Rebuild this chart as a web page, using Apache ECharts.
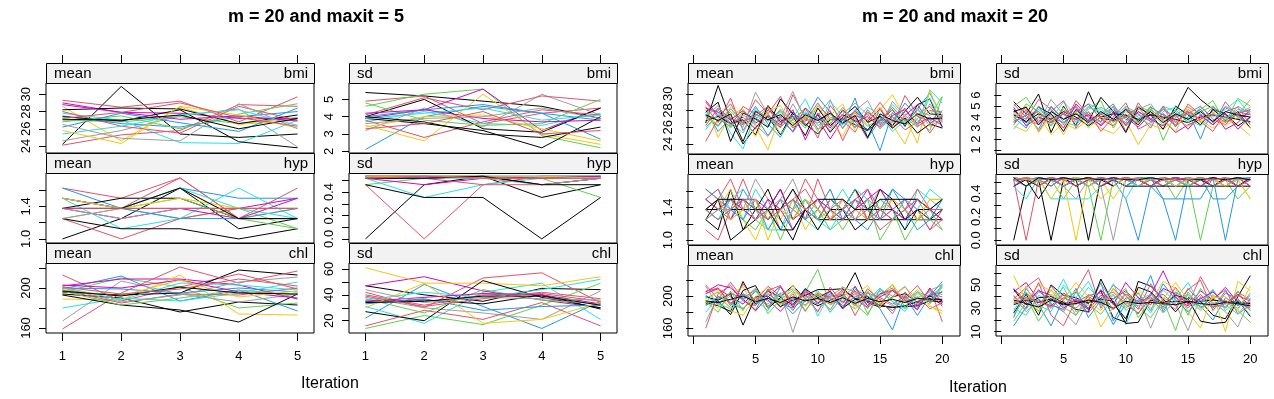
<!DOCTYPE html>
<html>
<head>
<meta charset="utf-8">
<script src="https://cdn.jsdelivr.net/npm/echarts@6/dist/echarts.min.js"></script>
<style>
  html, body { margin: 0; background: #fff; }
  #chart { width: 1274px; height: 399px; }
</style>
</head>
<body>
<div id="chart"></div>
<script>
// iteration numbers
const iter5 = [1, 2, 3, 4, 5];
const iter20 = [1, 2, 3, 4, 5, 6, 7, 8, 9, 10, 11, 12, 13, 14, 15, 16, 17, 18, 19, 20];

// x tick values / labels
const xTicks5 = [1, 2, 3, 4, 5];
const xLabels5 = [1, 2, 3, 4, 5];
const xTicks20 = [0, 5, 10, 15, 20];
const xLabels20 = [5, 10, 15, 20];

// y tick values / labels
const bmiMeanTicks = [24, 26, 28, 30];
const bmiMeanLabels = [24, 26, 28, 30];
const bmiSdTicks5 = [2, 3, 4, 5];
const bmiSdLabels5 = [2, 3, 4, 5];
const bmiSdTicks20 = [1, 2, 3, 4, 5, 6];
const bmiSdLabels20 = [1, 2, 3, 4, 5, 6];
const hypMeanTicks = [1.0, 1.2, 1.4, 1.6];
const hypMeanLabels = [1.0, 1.4];
const hypSdTicks = [0, 0.1, 0.2, 0.3, 0.4, 0.5];
const hypSdLabels = [0, 0.2, 0.4];
const chlMeanTicks = [160, 180, 200, 220];
const chlMeanLabels = [160, 200];
const chlSdTicks5 = [20, 30, 40, 50, 60];
const chlSdLabels5 = [20, 40, 60];
const chlSdTicks20 = [10, 20, 30, 40, 50, 60];
const chlSdLabels20 = [10, 30, 50];

// ---- m = 20, maxit = 5 (one row per imputation) ----
const bmiMean5 = [
  [24.2, 30.9, 25.4, 25.0, 25.4], [29.3, 28.5, 29.2, 26.8, 29.7], [27.0, 26.8, 27.4, 26.6, 27.3], [27.5, 26.6, 26.2, 27.4, 28.0],
  [27.8, 27.0, 24.4, 24.3, 27.0], [29.0, 27.9, 27.8, 27.2, 27.2], [28.6, 24.6, 28.5, 26.5, 27.0], [24.6, 25.8, 27.5, 28.3, 23.9],
  [28.2, 28.4, 28.3, 26.6, 27.6], [28.0, 26.3, 25.5, 28.6, 27.0], [27.4, 26.9, 28.2, 24.5, 23.8], [24.1, 25.3, 25.8, 28.8, 28.6],
  [26.8, 27.5, 26.0, 27.7, 28.9], [26.2, 27.8, 26.7, 25.7, 28.4], [25.4, 26.3, 27.6, 28.2, 26.4], [28.8, 27.9, 27.1, 27.5, 26.9],
  [25.8, 24.3, 28.6, 27.6, 26.1], [26.5, 24.9, 24.6, 28.9, 26.0], [27.1, 27.0, 27.6, 26.0, 27.2], [27.2, 27.9, 29.0, 27.3, 26.3]
];
const bmiSd5 = [
  [5.4, 5.2, 4.9, 4.6, 3.9], [4.9, 5.2, 3.6, 4.2, 4.5], [4.6, 5.3, 5.6, 2.9, 2.2], [2.1, 4.0, 4.6, 4.2, 3.8],
  [3.7, 4.3, 3.6, 3.5, 4.2], [3.9, 4.4, 5.6, 3.2, 4.5], [3.5, 2.6, 5.3, 3.0, 2.4], [3.2, 4.5, 3.4, 5.3, 4.1],
  [4.0, 5.0, 3.3, 3.1, 4.5], [3.8, 2.8, 3.7, 4.4, 4.1], [3.9, 3.6, 3.2, 2.2, 4.0], [4.1, 5.1, 4.4, 5.2, 4.9],
  [4.8, 3.8, 3.5, 3.6, 5.0], [4.0, 4.4, 4.7, 4.2, 2.7], [3.9, 4.2, 4.5, 3.8, 4.1], [4.2, 4.4, 3.9, 3.7, 3.8],
  [3.4, 4.0, 4.1, 3.3, 2.6], [3.6, 3.9, 4.0, 4.5, 3.9], [4.0, 3.7, 3.0, 2.8, 3.4], [3.3, 3.6, 4.3, 3.0, 3.2]
];
const hypMean5 = [
  [1.0, 1.25, 1.625, 1.125, 1.25], [1.625, 1.5, 1.75, 1.25, 1.625], [1.25, 1.375, 1.25, 1.375, 1.125], [1.625, 1.375, 1.625, 1.5, 1.5],
  [1.5, 1.125, 1.25, 1.625, 1.25], [1.375, 1.25, 1.375, 1.375, 1.5], [1.5, 1.375, 1.625, 1.25, 1.375], [1.375, 1.25, 1.375, 1.375, 1.375],
  [1.375, 1.5, 1.5, 1.25, 1.25], [1.25, 1.0, 1.25, 1.375, 1.375], [1.25, 1.125, 1.125, 1.0, 1.125], [1.375, 1.375, 1.75, 1.25, 1.25],
  [1.375, 1.375, 1.5, 1.25, 1.125], [1.5, 1.375, 1.25, 1.25, 1.375], [1.5, 1.375, 1.625, 1.375, 1.25], [1.5, 1.375, 1.375, 1.25, 1.5],
  [1.5, 1.375, 1.5, 1.375, 1.375], [1.25, 1.375, 1.375, 1.375, 1.375], [1.375, 1.375, 1.625, 1.25, 1.25], [1.375, 1.375, 1.375, 1.375, 1.375]
];
const hypSd5 = [
  [0, 0.463, 0.535, 0.354, 0.463], [0.463, 0, 0.463, 0.535, 0.535], [0.463, 0.518, 0.535, 0.518, 0.354], [0.535, 0.535, 0.535, 0.535, 0.535],
  [0.518, 0.354, 0.463, 0.518, 0.518], [0.518, 0.463, 0.518, 0.518, 0.518], [0.535, 0.535, 0.518, 0.518, 0.535], [0.518, 0.518, 0.535, 0.518, 0.518],
  [0.535, 0.535, 0.535, 0.463, 0.518], [0.518, 0.518, 0.463, 0.463, 0.518], [0.463, 0.354, 0.354, 0, 0.354], [0.535, 0.535, 0.518, 0.535, 0.535],
  [0.518, 0.535, 0.518, 0.518, 0.518], [0.518, 0.518, 0.535, 0.535, 0.535], [0.535, 0.518, 0.518, 0.535, 0.518], [0.535, 0.518, 0.535, 0.518, 0.535],
  [0.535, 0.535, 0.535, 0.535, 0.518], [0.518, 0.535, 0.518, 0.463, 0.518], [0.518, 0.518, 0.535, 0.463, 0.463], [0.518, 0.535, 0.518, 0.518, 0.518]
];
const chlMean5 = [
  [194, 190, 176, 186, 183], [213, 187, 201, 214, 199], [196, 210, 201, 180, 185], [199, 212, 187, 198, 177],
  [180, 190, 187, 195, 206], [202, 209, 209, 203, 189], [189, 188, 213, 174, 173], [167, 207, 194, 186, 194],
  [196, 193, 195, 218, 213], [159, 195, 221, 205, 217], [193, 183, 178, 166, 194], [198, 185, 194, 193, 200],
  [197, 183, 190, 198, 193], [200, 199, 195, 200, 196], [201, 188, 205, 203, 198], [203, 200, 208, 196, 190],
  [198, 192, 208, 191, 197], [200, 186, 193, 206, 211], [197, 192, 201, 195, 194], [201, 194, 199, 209, 202]
];
const chlSd5 = [
  [47, 40, 35, 45, 44], [42, 30, 53, 57, 34], [14, 24, 17, 32, 49], [22, 48, 31, 14, 35],
  [31, 18, 42, 49, 21], [47, 54, 43, 36, 30], [61, 49, 49, 47, 54], [38, 30, 26, 21, 43],
  [27, 20, 51, 38, 30], [16, 28, 21, 34, 16], [35, 36, 33, 40, 29], [40, 32, 40, 41, 35],
  [37, 26, 44, 36, 33], [33, 37, 28, 31, 32], [36, 42, 38, 44, 52], [35, 38, 41, 40, 33],
  [30, 49, 18, 21, 34], [44, 34, 38, 37, 36], [34, 35, 39, 39, 32], [39, 31, 37, 42, 37]
];

// ---- m = 20, maxit = 20 ----
const bmiMean20 = [
  [26.5, 31.0, 26.9, 24.0, 26.0, 27.3, 25.1, 27.8, 26.4, 25.2, 26.9, 27.0, 26.3, 25.6, 26.8, 28.1, 26.1, 28.7, 29.4, 26.0],
  [29.0, 27.2, 28.8, 26.4, 29.3, 27.6, 29.7, 26.8, 28.3, 25.8, 26.4, 27.9, 27.1, 24.6, 28.3, 26.1, 29.8, 27.5, 28.5, 26.7],
  [27.2, 26.1, 27.9, 26.4, 27.0, 28.3, 26.0, 27.4, 25.9, 28.6, 27.2, 26.8, 27.7, 26.1, 27.0, 28.1, 26.3, 26.9, 25.6, 29.6],
  [28.1, 25.5, 27.1, 26.3, 28.5, 26.4, 24.8, 27.6, 26.9, 29.6, 27.8, 25.9, 28.1, 26.7, 23.2, 27.8, 26.2, 28.2, 30.1, 27.2],
  [27.5, 28.2, 25.3, 23.4, 27.6, 26.1, 28.2, 26.5, 27.9, 25.5, 29.1, 27.3, 25.9, 27.8, 26.5, 28.7, 27.2, 26.0, 30.5, 28.9],
  [29.2, 27.4, 26.5, 27.2, 25.8, 28.1, 27.0, 25.5, 28.3, 27.0, 24.6, 26.9, 27.9, 26.7, 28.2, 25.9, 27.4, 28.7, 26.5, 27.3],
  [28.6, 24.8, 27.5, 28.2, 26.1, 23.3, 27.6, 26.4, 27.0, 28.4, 26.6, 24.9, 27.8, 26.3, 28.1, 29.9, 27.2, 24.1, 30.4, 26.8],
  [26.7, 28.0, 27.2, 26.0, 30.2, 27.5, 25.9, 28.8, 26.3, 27.4, 29.3, 25.8, 28.0, 29.2, 26.4, 27.7, 26.9, 28.3, 26.1, 27.0],
  [27.8, 29.0, 24.3, 27.7, 27.0, 26.0, 29.4, 27.6, 26.2, 27.5, 25.4, 27.2, 28.5, 26.6, 27.3, 26.2, 27.9, 29.6, 27.6, 27.5],
  [24.3, 27.0, 26.1, 28.5, 27.6, 26.8, 28.0, 25.9, 27.4, 24.7, 28.6, 26.8, 25.4, 28.1, 26.3, 27.3, 25.7, 26.6, 28.0, 27.8],
  [26.8, 27.3, 26.4, 26.9, 25.1, 28.6, 26.7, 27.3, 25.0, 28.3, 26.2, 27.5, 26.8, 25.7, 27.3, 25.9, 27.1, 25.3, 26.4, 25.9],
  [28.4, 26.6, 29.5, 25.6, 28.0, 27.2, 26.0, 29.9, 27.1, 26.5, 28.0, 24.4, 27.4, 26.9, 29.0, 26.9, 28.3, 26.1, 27.0, 27.3],
  [26.0, 27.5, 25.9, 27.9, 26.7, 27.7, 25.2, 27.0, 28.1, 27.1, 26.4, 28.4, 26.3, 27.6, 25.8, 27.2, 26.5, 28.0, 27.4, 29.7],
  [27.4, 26.2, 28.2, 26.7, 27.3, 25.0, 27.3, 25.4, 27.7, 26.9, 27.6, 26.3, 29.5, 24.7, 26.9, 26.6, 28.9, 27.3, 26.7, 28.0],
  [25.7, 27.6, 26.6, 25.3, 28.3, 26.7, 27.8, 27.1, 29.4, 26.2, 27.0, 26.4, 26.7, 28.4, 27.5, 25.5, 26.8, 27.0, 29.5, 26.5],
  [28.3, 27.8, 26.9, 28.0, 26.5, 27.4, 26.3, 28.1, 24.5, 27.7, 25.9, 28.1, 26.6, 27.3, 26.0, 27.4, 28.1, 26.4, 27.2, 26.2],
  [27.0, 26.5, 28.4, 27.3, 24.9, 27.9, 28.6, 26.0, 27.3, 25.7, 27.4, 28.8, 25.6, 27.1, 28.4, 26.3, 24.0, 27.7, 26.2, 27.6],
  [27.3, 28.6, 26.2, 27.5, 26.3, 24.9, 27.1, 30.3, 26.8, 27.1, 25.6, 27.6, 28.9, 27.5, 26.1, 29.1, 27.4, 26.3, 28.8, 26.9],
  [27.5, 26.8, 27.6, 24.3, 27.9, 26.9, 27.5, 26.2, 27.5, 26.8, 27.7, 26.5, 27.4, 24.8, 27.6, 26.8, 26.4, 27.6, 27.0, 27.1],
  [26.2, 28.3, 27.0, 26.6, 27.4, 28.5, 26.5, 27.3, 26.7, 28.9, 26.9, 27.4, 26.0, 27.8, 26.7, 28.4, 26.7, 27.5, 25.3, 27.4]
];
const bmiSd20 = [
  [5.4, 4.3, 6.1, 2.6, 5.0, 3.2, 6.3, 3.9, 3.7, 4.2, 3.3, 4.7, 3.8, 4.5, 6.7, 5.6, 4.7, 3.7, 4.5, 3.0],
  [4.5, 3.8, 5.6, 4.7, 3.3, 5.5, 4.2, 3.6, 5.0, 2.7, 5.3, 3.8, 4.9, 3.1, 5.2, 4.2, 3.3, 5.4, 4.0, 4.3],
  [5.0, 5.8, 4.2, 3.2, 4.5, 3.8, 4.7, 5.5, 3.0, 4.9, 3.7, 5.0, 1.9, 4.3, 3.8, 4.7, 5.5, 3.5, 5.7, 5.0],
  [3.5, 4.2, 2.9, 5.0, 3.8, 4.9, 3.3, 4.3, 5.2, 3.2, 4.5, 3.8, 4.7, 4.0, 4.5, 2.0, 4.9, 4.2, 3.8, 4.5],
  [4.3, 3.3, 4.7, 3.8, 5.4, 4.2, 5.2, 4.7, 3.8, 5.0, 4.3, 3.6, 5.0, 4.5, 3.6, 4.9, 4.0, 4.7, 5.6, 4.2],
  [3.8, 4.9, 3.6, 4.3, 3.0, 5.2, 4.0, 3.3, 4.5, 4.0, 3.1, 4.3, 3.8, 2.6, 3.3, 3.8, 4.5, 2.9, 3.5, 4.7],
  [3.2, 2.7, 4.2, 2.4, 3.5, 2.9, 3.8, 3.0, 2.5, 3.7, 1.5, 3.3, 2.9, 3.8, 3.2, 3.7, 3.0, 3.8, 3.3, 2.3],
  [4.0, 4.5, 3.5, 5.6, 4.2, 3.8, 5.0, 4.2, 4.9, 3.3, 4.7, 5.2, 3.6, 4.2, 4.9, 4.3, 3.6, 5.0, 4.3, 4.9],
  [4.7, 3.5, 4.9, 4.3, 2.7, 4.7, 3.6, 5.8, 4.5, 2.6, 4.9, 4.2, 2.9, 5.0, 4.2, 3.3, 4.7, 4.3, 3.2, 4.0],
  [3.3, 4.7, 2.7, 4.5, 5.5, 3.0, 4.5, 2.7, 4.0, 5.3, 2.9, 3.5, 4.3, 3.3, 4.7, 3.6, 2.7, 4.5, 4.9, 3.3],
  [4.2, 3.6, 4.3, 3.8, 4.5, 4.0, 3.2, 4.0, 4.3, 4.2, 3.8, 4.2, 4.0, 3.8, 3.5, 4.0, 4.2, 4.0, 3.8, 3.6],
  [5.2, 4.0, 3.3, 4.9, 3.8, 4.5, 5.2, 3.8, 3.2, 4.7, 4.3, 3.0, 5.0, 3.6, 4.3, 5.0, 3.8, 3.3, 4.5, 4.2],
  [3.6, 5.2, 4.5, 3.3, 4.9, 3.5, 4.2, 4.9, 4.2, 3.5, 5.0, 4.5, 3.3, 4.7, 3.5, 4.5, 5.0, 4.0, 4.2, 5.6],
  [4.0, 3.0, 5.0, 4.0, 3.5, 4.3, 3.8, 3.6, 4.7, 3.8, 3.5, 4.9, 4.2, 3.2, 4.0, 4.7, 3.5, 4.9, 4.0, 3.5],
  [2.9, 4.3, 3.8, 4.7, 3.6, 3.2, 4.9, 4.5, 3.5, 4.5, 4.0, 3.3, 4.5, 4.9, 3.8, 3.2, 4.3, 3.8, 4.7, 4.5],
  [4.9, 3.2, 4.0, 3.5, 4.3, 3.8, 4.2, 3.2, 4.3, 3.3, 4.5, 3.8, 3.2, 4.2, 2.9, 4.2, 3.3, 4.3, 2.9, 4.0],
  [3.8, 5.0, 2.6, 4.2, 2.4, 4.5, 3.0, 4.0, 3.3, 4.3, 3.5, 4.7, 3.8, 2.7, 5.0, 3.5, 4.5, 3.2, 4.0, 3.0],
  [4.3, 3.8, 4.9, 3.6, 4.7, 3.6, 4.5, 3.5, 5.0, 4.0, 4.2, 3.6, 4.7, 4.0, 4.3, 3.8, 4.9, 3.6, 5.0, 4.3],
  [4.5, 4.9, 3.3, 4.5, 3.8, 4.3, 3.5, 4.5, 3.8, 4.7, 3.6, 4.5, 3.5, 4.3, 3.8, 4.5, 3.6, 4.5, 4.2, 4.0],
  [3.6, 4.2, 4.5, 3.6, 4.3, 5.0, 3.6, 4.3, 3.6, 4.0, 4.9, 3.6, 4.3, 3.5, 4.5, 3.8, 4.3, 3.5, 4.3, 4.7]
];
const hypMean20 = [
  [1.25, 1.125, 1.625, 1.125, 1.25, 1.375, 1.625, 1.25, 1.5, 1.25, 1.25, 1.25, 1.25, 1.25, 1.25, 1.25, 1.25, 1.25, 1.25, 1.25],
  [1.625, 1.5, 1.75, 1.375, 1.25, 1.5, 1.125, 1.375, 1.75, 1.5, 1.25, 1.375, 1.625, 1.25, 1.375, 1.5, 1.25, 1.375, 1.125, 1.375],
  [1.375, 1.25, 1.375, 1.5, 1.25, 1.125, 1.375, 1.25, 1.5, 1.375, 1.125, 1.25, 1.375, 1.5, 1.0, 1.25, 1.375, 1.25, 1.25, 1.5],
  [1.5, 1.375, 1.25, 1.625, 1.375, 1.25, 1.5, 1.125, 1.375, 1.25, 1.5, 1.375, 1.25, 1.125, 1.375, 1.625, 1.5, 1.5, 1.375, 1.25],
  [1.5, 1.625, 1.375, 1.25, 1.625, 1.375, 1.125, 1.5, 1.25, 1.125, 1.375, 1.625, 1.375, 1.25, 1.5, 1.375, 1.125, 1.625, 1.5, 1.375],
  [1.375, 1.5, 1.25, 1.5, 1.5, 1.375, 1.625, 1.25, 1.375, 1.5, 1.25, 1.5, 1.375, 1.625, 1.25, 1.375, 1.5, 1.25, 1.375, 1.5],
  [1.5, 1.375, 1.625, 1.25, 1.0, 1.375, 1.25, 1.5, 1.125, 1.375, 1.625, 1.25, 1.5, 1.375, 1.25, 1.5, 1.375, 1.25, 1.5, 1.5],
  [1.375, 1.25, 1.5, 1.375, 1.75, 1.5, 1.375, 1.625, 1.25, 1.5, 1.375, 1.25, 1.5, 1.375, 1.625, 1.375, 1.25, 1.5, 1.375, 1.25],
  [1.375, 1.375, 1.375, 1.375, 1.375, 1.375, 1.375, 1.625, 1.375, 1.125, 1.375, 1.375, 1.625, 1.375, 1.375, 1.375, 1.125, 1.375, 1.375, 1.375],
  [1.125, 1.0, 1.375, 1.75, 1.375, 1.25, 1.5, 1.375, 1.25, 1.75, 1.375, 1.5, 1.25, 1.375, 1.125, 1.25, 1.5, 1.375, 1.125, 1.25],
  [1.25, 1.5, 1.0, 1.125, 1.375, 1.625, 1.25, 1.0, 1.375, 1.25, 1.5, 1.375, 1.125, 1.25, 1.625, 1.5, 1.25, 1.375, 1.25, 1.375],
  [1.5, 1.625, 1.25, 1.375, 1.5, 1.25, 1.375, 1.5, 1.625, 1.375, 1.25, 1.375, 1.5, 1.625, 1.375, 1.25, 1.375, 1.625, 1.375, 1.25],
  [1.25, 1.375, 1.5, 1.25, 1.125, 1.375, 1.0, 1.375, 1.5, 1.25, 1.375, 1.125, 1.375, 1.25, 1.5, 1.375, 1.0, 1.25, 1.375, 1.125],
  [1.625, 1.5, 1.375, 1.25, 1.5, 1.125, 1.375, 1.5, 1.25, 1.375, 1.625, 1.25, 1.5, 1.375, 1.25, 1.625, 1.375, 1.125, 1.25, 1.5],
  [1.375, 1.25, 1.5, 1.625, 1.375, 1.125, 1.125, 1.375, 1.5, 1.25, 1.125, 1.375, 1.625, 1.5, 1.375, 1.25, 1.5, 1.375, 1.625, 1.5],
  [1.5, 1.375, 1.5, 1.375, 1.25, 1.5, 1.375, 1.125, 1.375, 1.5, 1.375, 1.25, 1.375, 1.5, 1.625, 1.375, 1.25, 1.5, 1.375, 1.25],
  [1.375, 1.5, 1.25, 1.375, 1.5, 1.0, 1.375, 1.25, 1.5, 1.375, 1.25, 1.5, 1.375, 1.25, 1.375, 1.5, 1.375, 1.25, 1.5, 1.5],
  [1.25, 1.375, 1.375, 1.5, 1.25, 1.375, 1.5, 1.75, 1.375, 1.25, 1.5, 1.375, 1.25, 1.5, 1.375, 1.25, 1.375, 1.5, 1.25, 1.125],
  [1.375, 1.5, 1.5, 1.5, 1.375, 1.375, 1.125, 1.125, 1.375, 1.5, 1.5, 1.5, 1.375, 1.375, 1.5, 1.5, 1.5, 1.5, 1.375, 1.5],
  [1.375, 1.25, 1.375, 1.5, 1.375, 1.25, 1.375, 1.5, 1.375, 1.5, 1.25, 1.375, 1.5, 1.25, 1.375, 1.25, 1.375, 1.5, 1.375, 1.375]
];
const hypSd20 = [
  [0, 0.463, 0.518, 0, 0.518, 0.535, 0, 0.535, 0.518, 0.463, 0.535, 0.518, 0.463, 0.535, 0.518, 0.535, 0.463, 0.518, 0.535, 0.463],
  [0.518, 0, 0.518, 0.535, 0.463, 0.518, 0.535, 0.518, 0.535, 0.518, 0.463, 0.535, 0.518, 0.535, 0.518, 0.463, 0.518, 0.535, 0.518, 0.518],
  [0.535, 0.518, 0.463, 0.518, 0.354, 0.518, 0.463, 0, 0.518, 0.535, 0.463, 0.518, 0.535, 0.354, 0.518, 0, 0.463, 0.518, 0.354, 0.463],
  [0.518, 0.535, 0.518, 0.463, 0.535, 0.518, 0.535, 0.463, 0.518, 0.354, 0, 0.463, 0.354, 0, 0.518, 0.535, 0.354, 0.354, 0.463, 0.518],
  [0.463, 0.354, 0.535, 0.354, 0.354, 0.354, 0.354, 0.463, 0.518, 0.354, 0.535, 0.518, 0.463, 0.535, 0.518, 0.535, 0.518, 0.463, 0.535, 0.535],
  [0.535, 0.518, 0.535, 0.518, 0.535, 0.463, 0.518, 0.535, 0.463, 0.535, 0.518, 0.535, 0.518, 0.463, 0.535, 0.518, 0.535, 0.518, 0.463, 0.518],
  [0.518, 0.535, 0.463, 0.535, 0.518, 0, 0.535, 0.518, 0.354, 0.518, 0.535, 0.463, 0.518, 0.518, 0.535, 0.463, 0.518, 0.535, 0.518, 0.354],
  [0.535, 0.518, 0.535, 0.518, 0.463, 0.354, 0.518, 0.535, 0.518, 0.463, 0.518, 0.535, 0.463, 0.518, 0.535, 0.518, 0.535, 0.463, 0.518, 0.535],
  [0.463, 0.518, 0.354, 0.518, 0.535, 0.463, 0.518, 0.518, 0.463, 0.535, 0.518, 0.463, 0.535, 0.518, 0.463, 0.518, 0.463, 0.535, 0.463, 0.535],
  [0.518, 0.463, 0.535, 0.518, 0.518, 0.535, 0.463, 0.518, 0.535, 0.518, 0.535, 0.518, 0.463, 0.518, 0.535, 0.518, 0.518, 0.463, 0.535, 0.518],
  [0.518, 0.518, 0.463, 0.535, 0.463, 0.518, 0.535, 0.463, 0.518, 0.463, 0.463, 0.463, 0.463, 0.463, 0.463, 0.463, 0.463, 0.463, 0.463, 0.463],
  [0.535, 0.518, 0.518, 0.463, 0.535, 0.518, 0.463, 0.535, 0.518, 0.535, 0.463, 0.518, 0.535, 0.463, 0.518, 0.535, 0.463, 0.518, 0.535, 0.463],
  [0.518, 0.463, 0.518, 0.535, 0.518, 0.535, 0.518, 0.463, 0.535, 0.518, 0.518, 0.535, 0.518, 0.535, 0.463, 0.518, 0.535, 0.518, 0.535, 0.518],
  [0.535, 0.518, 0.535, 0.518, 0.463, 0.535, 0.518, 0.535, 0.518, 0.463, 0.535, 0.535, 0.354, 0.354, 0.354, 0.354, 0.535, 0, 0.518, 0.535],
  [0.518, 0.463, 0.535, 0.518, 0.535, 0.518, 0.463, 0.518, 0.535, 0.518, 0.463, 0.535, 0.518, 0.463, 0.535, 0.518, 0.535, 0.518, 0.518, 0.535],
  [0.463, 0.535, 0.518, 0.535, 0.518, 0.518, 0.535, 0.463, 0.518, 0.535, 0.518, 0.463, 0.535, 0.518, 0.518, 0.463, 0.535, 0.518, 0.535, 0.518],
  [0.535, 0.518, 0.518, 0.354, 0.518, 0.535, 0.518, 0.354, 0.463, 0.535, 0.518, 0.518, 0.535, 0.463, 0.518, 0.535, 0.518, 0.463, 0.518, 0.354],
  [0.518, 0.535, 0.518, 0.535, 0.463, 0.518, 0.535, 0.463, 0, 0.518, 0.535, 0.518, 0.535, 0.518, 0.463, 0.535, 0.518, 0.535, 0.518, 0.535],
  [0.535, 0.463, 0.535, 0.518, 0.535, 0.518, 0.535, 0.518, 0.535, 0.518, 0.518, 0.535, 0.518, 0.535, 0.518, 0.518, 0.535, 0.518, 0.535, 0.518],
  [0.518, 0.535, 0.463, 0.535, 0.518, 0.463, 0.518, 0.535, 0.518, 0.535, 0.518, 0.463, 0.518, 0.535, 0.518, 0.535, 0.518, 0.535, 0.463, 0.518]
];
const chlMean20 = [
  [192, 188, 181, 218, 190, 206, 199, 213, 196, 188, 195, 201, 229, 192, 186, 199, 203, 192, 197, 190],
  [214, 196, 217, 197, 208, 185, 211, 193, 204, 199, 183, 206, 176, 204, 198, 190, 200, 183, 210, 168],
  [197, 205, 190, 184, 199, 188, 196, 187, 205, 233, 189, 197, 190, 176, 209, 193, 186, 198, 205, 202],
  [201, 190, 204, 196, 183, 209, 194, 178, 194, 203, 197, 186, 208, 200, 191, 182, 199, 176, 200, 218],
  [180, 198, 186, 201, 195, 182, 212, 190, 210, 175, 203, 194, 184, 197, 206, 193, 181, 204, 192, 215],
  [203, 209, 199, 190, 206, 195, 181, 198, 189, 201, 192, 208, 196, 186, 199, 207, 195, 189, 201, 205],
  [195, 185, 201, 212, 181, 199, 190, 205, 199, 193, 207, 184, 201, 213, 190, 198, 211, 196, 187, 182],
  [168, 200, 192, 185, 198, 190, 204, 155, 200, 196, 190, 199, 193, 204, 196, 188, 195, 205, 199, 212],
  [190, 194, 177, 207, 213, 185, 198, 189, 209, 198, 206, 185, 196, 194, 188, 186, 188, 193, 200, 194],
  [160, 203, 213, 194, 188, 207, 186, 203, 181, 204, 198, 193, 203, 188, 202, 210, 193, 199, 184, 192],
  [199, 195, 203, 164, 199, 200, 187, 195, 201, 208, 208, 209, 197, 199, 188, 186, 187, 188, 194, 193],
  [206, 210, 191, 203, 194, 212, 200, 182, 206, 191, 200, 202, 188, 209, 195, 178, 205, 191, 208, 187],
  [193, 180, 206, 182, 209, 178, 196, 207, 182, 203, 180, 199, 212, 178, 201, 214, 186, 206, 192, 213],
  [188, 199, 195, 202, 189, 203, 191, 185, 197, 190, 203, 188, 199, 205, 184, 158, 201, 186, 203, 199],
  [199, 191, 184, 195, 206, 193, 201, 196, 188, 207, 180, 200, 191, 195, 210, 196, 184, 199, 190, 211],
  [205, 214, 210, 196, 182, 199, 212, 186, 208, 191, 206, 184, 212, 188, 203, 207, 194, 183, 210, 192],
  [192, 207, 182, 176, 199, 211, 189, 214, 187, 205, 190, 212, 184, 207, 186, 215, 193, 208, 188, 178],
  [212, 188, 205, 195, 210, 185, 203, 209, 196, 182, 199, 211, 205, 184, 208, 200, 212, 189, 207, 214],
  [194, 192, 196, 200, 193, 197, 192, 199, 194, 197, 192, 198, 191, 197, 193, 196, 192, 197, 196, 196],
  [203, 210, 188, 215, 193, 207, 213, 189, 203, 180, 211, 191, 206, 195, 189, 208, 197, 213, 192, 206]
];
const chlSd20 = [
  [26, 42, 24, 50, 41, 39, 34, 45, 22, 18, 53, 49, 38, 27, 39, 36, 24, 21, 40, 58],
  [38, 48, 56, 34, 27, 44, 63, 30, 47, 36, 25, 43, 31, 48, 33, 57, 38, 46, 25, 33],
  [19, 35, 28, 46, 31, 24, 42, 36, 29, 44, 31, 22, 37, 11, 44, 30, 41, 36, 28, 18],
  [22, 47, 33, 15, 38, 44, 29, 52, 19, 39, 35, 58, 27, 44, 36, 32, 20, 39, 33, 35],
  [30, 24, 41, 36, 55, 33, 48, 37, 42, 16, 38, 26, 46, 35, 41, 28, 45, 33, 25, 38],
  [44, 52, 37, 32, 43, 36, 29, 41, 38, 45, 34, 41, 62, 39, 32, 45, 37, 48, 35, 30],
  [58, 36, 50, 45, 38, 52, 40, 14, 31, 37, 46, 35, 53, 47, 27, 13, 42, 10, 53, 45],
  [36, 29, 44, 38, 27, 16, 37, 51, 35, 30, 40, 13, 39, 34, 11, 40, 35, 27, 14, 39],
  [46, 33, 39, 40, 35, 29, 27, 55, 34, 21, 48, 44, 33, 41, 38, 19, 17, 18, 37, 23],
  [41, 30, 52, 24, 15, 37, 26, 39, 44, 33, 26, 38, 42, 32, 46, 54, 28, 43, 38, 28],
  [33, 37, 35, 38, 34, 36, 35, 38, 36, 17, 18, 37, 35, 36, 35, 36, 37, 36, 35, 34],
  [35, 43, 31, 49, 36, 30, 40, 34, 50, 41, 29, 51, 36, 29, 47, 35, 46, 30, 44, 37],
  [24, 40, 19, 35, 48, 27, 33, 25, 38, 47, 22, 36, 29, 44, 24, 47, 33, 31, 45, 28],
  [15, 31, 46, 33, 29, 47, 22, 37, 16, 34, 43, 28, 51, 37, 27, 39, 30, 45, 32, 41],
  [28, 44, 33, 27, 50, 39, 53, 32, 51, 28, 37, 42, 30, 38, 52, 33, 46, 28, 37, 24],
  [47, 35, 45, 41, 30, 38, 30, 46, 33, 52, 39, 33, 47, 42, 34, 38, 44, 34, 42, 32],
  [33, 49, 27, 42, 37, 45, 36, 28, 47, 31, 44, 30, 38, 52, 37, 28, 39, 40, 28, 49],
  [40, 27, 38, 30, 42, 24, 38, 33, 41, 35, 32, 40, 26, 36, 42, 31, 34, 37, 30, 43],
  [37, 34, 31, 37, 33, 34, 37, 35, 30, 36, 34, 35, 34, 33, 36, 34, 33, 35, 34, 32],
  [34, 39, 36, 31, 39, 35, 41, 43, 29, 42, 36, 39, 33, 40, 30, 42, 31, 34, 41, 36]
];

// R palette 1:10 recycled over the 20 imputations
const palette = ['#000000', '#DF536B', '#61D04F', '#2297E6', '#28E2E5', '#CD0BBC', '#F5C710', '#9E9E9E', '#000000', '#DF536B'];
const FONT = '"Liberation Sans", Arial, sans-serif';

const grids = [], xAxes = [], yAxes = [], series = [], graphics = [];

function addPanel(p) {
  const g = grids.length;
  grids.push({
    left: p.left, top: p.top, width: p.width, height: p.height,
    show: true, borderColor: '#000', borderWidth: 1, backgroundColor: 'transparent'
  });
  const xi = xAxes.length;
  xAxes.push({
    type: 'value', gridIndex: g, min: p.xmin, max: p.xmax, position: 'bottom',
    axisLine: { show: false }, splitLine: { show: false },
    axisTick: { show: p.row === 2, length: 8, customValues: p.xticks, lineStyle: { color: '#000' } },
    axisLabel: { show: p.row === 2, customValues: p.xlabels, margin: 17, fontSize: 13, color: '#000', fontFamily: FONT }
  });
  if (p.row === 0) {
    xAxes.push({
      type: 'value', gridIndex: g, min: p.xmin, max: p.xmax, position: 'top', offset: 20,
      axisLine: { show: false }, splitLine: { show: false },
      axisTick: { show: true, length: 8, customValues: p.xticks, lineStyle: { color: '#000' } },
      axisLabel: { show: false }
    });
  }
  yAxes.push({
    type: 'value', gridIndex: g, min: p.ymin, max: p.ymax,
    axisLine: { show: false }, splitLine: { show: false },
    axisTick: { show: true, length: 7, customValues: p.yticks, lineStyle: { color: '#000' } },
    axisLabel: {
      customValues: p.ylabels, rotate: 90, margin: 13, fontSize: 13, color: '#000', fontFamily: FONT,
      formatter: v => p.dec ? Number(v).toFixed(p.dec) : String(v)
    }
  });
  p.lines.forEach((ys, i) => {
    series.push({
      type: 'line', xAxisIndex: xi, yAxisIndex: g,
      data: p.xs.map((x, k) => [x, ys[k]]),
      showSymbol: false, symbol: 'none', silent: true, animation: false,
      lineStyle: { width: 1, color: palette[i % 10] }
    });
  });
  // strip above the panel
  graphics.push({
    type: 'rect', silent: true,
    shape: { x: p.left + 0.5, y: p.top - 19.5, width: p.width, height: 20 },
    style: { fill: '#f2f2f2', stroke: '#000', lineWidth: 1 }
  });
  graphics.push({
    type: 'text', silent: true,
    style: { text: p.stat, x: p.left + 8, y: p.top - 9, verticalAlign: 'middle', font: '15px ' + FONT, fill: '#000' }
  });
  graphics.push({
    type: 'text', silent: true,
    style: { text: p.vname, x: p.left + p.width - 6, y: p.top - 9, align: 'right', verticalAlign: 'middle', font: '15px ' + FONT, fill: '#000' }
  });
}

function addPlot(cfg) {
  cfg.panels.forEach((pp, idx) => {
    const row = Math.floor(idx / 2), col = idx % 2;
    addPanel(Object.assign({
      left: cfg.cols[col], width: cfg.width, top: cfg.rows[row], height: cfg.height, row: row,
      xmin: cfg.xmin, xmax: cfg.xmax, xs: cfg.xs, xticks: cfg.xticks, xlabels: cfg.xlabels
    }, pp));
  });
  graphics.push({
    type: 'text', silent: true,
    style: { text: cfg.title, x: cfg.titleX, y: 17, align: 'center', verticalAlign: 'middle', font: 'bold 18px ' + FONT, fill: '#000' }
  });
  graphics.push({
    type: 'text', silent: true,
    style: { text: 'Iteration', x: cfg.xlabX, y: cfg.xlabY, align: 'center', verticalAlign: 'middle', font: '16px ' + FONT, fill: '#000' }
  });
}

addPlot({
  title: 'm = 20 and maxit = 5', titleX: 316, xlabX: 330, xlabY: 384,
  cols: [46, 349], width: 268, rows: [83, 173, 263], height: 70,
  xmin: 0.72, xmax: 5.28, xs: iter5, xticks: xTicks5, xlabels: xLabels5,
  panels: [
    { stat: 'mean', vname: 'bmi', lines: bmiMean5, ymin: 23.2, ymax: 31.3, yticks: bmiMeanTicks, ylabels: bmiMeanLabels, dec: 0 },
    { stat: 'sd', vname: 'bmi', lines: bmiSd5, ymin: 1.9, ymax: 5.95, yticks: bmiSdTicks5, ylabels: bmiSdLabels5, dec: 0 },
    { stat: 'mean', vname: 'hyp', lines: hypMean5, ymin: 0.95, ymax: 1.81, yticks: hypMeanTicks, ylabels: hypMeanLabels, dec: 1 },
    { stat: 'sd', vname: 'hyp', lines: hypSd5, ymin: -0.035, ymax: 0.563, yticks: hypSdTicks, ylabels: hypSdLabels, dec: 1 },
    { stat: 'mean', vname: 'chl', lines: chlMean5, ymin: 155, ymax: 225, yticks: chlMeanTicks, ylabels: chlMeanLabels, dec: 0 },
    { stat: 'sd', vname: 'chl', lines: chlSd5, ymin: 10.5, ymax: 64.6, yticks: chlSdTicks5, ylabels: chlSdLabels5, dec: 0 }
  ]
});

addPlot({
  title: 'm = 20 and maxit = 20', titleX: 955, xlabX: 978, xlabY: 388,
  cols: [688, 996], width: 272, rows: [83, 174, 265], height: 71,
  xmin: -0.42, xmax: 21.42, xs: iter20, xticks: xTicks20, xlabels: xLabels20,
  panels: [
    { stat: 'mean', vname: 'bmi', lines: bmiMean20, ymin: 22.8, ymax: 31.3, yticks: bmiMeanTicks, ylabels: bmiMeanLabels, dec: 0 },
    { stat: 'sd', vname: 'bmi', lines: bmiSd20, ymin: 0.65, ymax: 7.1, yticks: bmiSdTicks20, ylabels: bmiSdLabels20, dec: 0 },
    { stat: 'mean', vname: 'hyp', lines: hypMean20, ymin: 0.94, ymax: 1.81, yticks: hypMeanTicks, ylabels: hypMeanLabels, dec: 1 },
    { stat: 'sd', vname: 'hyp', lines: hypSd20, ymin: -0.04, ymax: 0.567, yticks: hypSdTicks, ylabels: hypSdLabels, dec: 1 },
    { stat: 'mean', vname: 'chl', lines: chlMean20, ymin: 150.5, ymax: 238.5, yticks: chlMeanTicks, ylabels: chlMeanLabels, dec: 0 },
    { stat: 'sd', vname: 'chl', lines: chlSd20, ymin: 6.3, ymax: 67, yticks: chlSdTicks20, ylabels: chlSdLabels20, dec: 0 }
  ]
});

const chart = echarts.init(document.getElementById('chart'), null, { renderer: 'canvas' });
chart.setOption({
  animation: false,
  backgroundColor: '#fff',
  grid: grids,
  xAxis: xAxes,
  yAxis: yAxes,
  series: series,
  graphic: graphics
});
</script>
</body>
</html>
